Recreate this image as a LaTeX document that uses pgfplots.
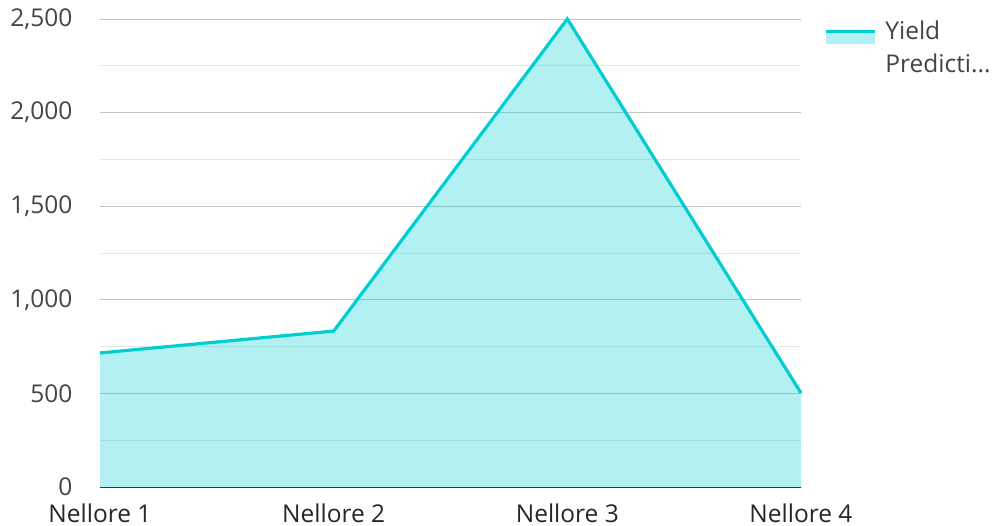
\documentclass[border=0pt]{standalone}
\usepackage{fontspec}
\setmainfont{Open Sans}
\usepackage{pgfplots}
\pgfplotsset{compat=1.18}
\definecolor{lineC}{RGB}{0,206,209}
\definecolor{majG}{RGB}{196,196,196}
\definecolor{minG}{RGB}{230,230,230}
\definecolor{txtC}{RGB}{68,68,68}
\begin{document}
\begin{tikzpicture}
\begin{axis}[
  scale only axis,
  width=701bp, height=468bp,
  xmin=0, xmax=3, ymin=0, ymax=2500,
  xtick={0,1,2,3},
  xticklabels={Nellore 1,Nellore 2,Nellore 3,Nellore 4},
  ytick={0,500,1000,1500,2000,2500},
  minor y tick num=1,
  ymajorgrids, yminorgrids,
  major grid style={majG, line width=0.8pt},
  minor grid style={minG, line width=0.8pt},
  axis lines=left,
  x axis line style={-, draw=black!80, line width=1pt},
  y axis line style={draw=none},
  tick style={draw=none},
  /pgf/number format/assume math mode=true,
  /pgf/number format/1000 sep={,},
  ticklabel style={font=\fontsize{24.5bp}{29bp}\selectfont, text=txtC},
  xticklabel style={text=black!85, yshift=-11bp},
  yticklabel style={xshift=-22bp},
  clip=false,
  legend style={at={(1,1)}, anchor=north west, xshift=20bp, yshift=2bp, draw=none, fill=none,
    font=\fontsize{24.5bp}{33bp}\selectfont, text=txtC, cells={align=left}},
]
\addplot[draw=none, fill=lineC, fill opacity=0.3, forget plot] coordinates {
  (0,716) (1,833) (2,2500) (3,502)
} \closedcycle;
\addplot[draw=lineC, line width=3.2pt, mark=none,
  legend image code/.code={
    \path[fill=lineC, fill opacity=0.3, draw=none] (0bp,4bp) rectangle (49bp,16.5bp);
    \path[draw=lineC, line width=3.2pt] (0bp,16.5bp) -- (49bp,16.5bp);
    \path (56bp,10bp);
  }] coordinates {
  (0,716) (1,833) (2,2500) (3,502)
};
\addlegendentry{Yield\\Predicti...}
\coordinate (sw) at (rel axis cs:0,0);
\end{axis}
\pgfresetboundingbox
\path ([shift={(-100bp,-39bp)}]sw) rectangle ([shift={(893bp,487bp)}]sw);
\end{tikzpicture}
\end{document}
